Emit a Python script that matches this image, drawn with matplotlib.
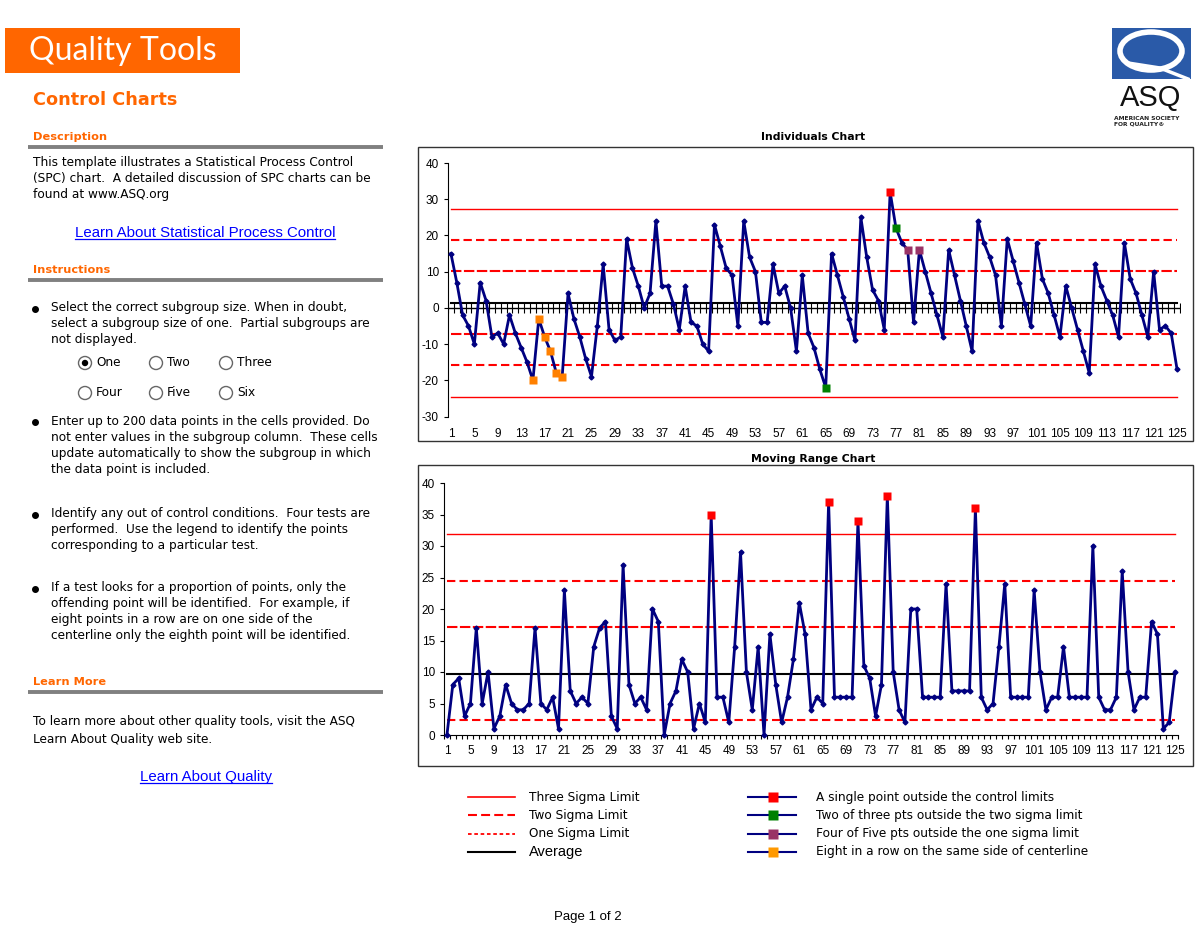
import numpy as np
import matplotlib
matplotlib.use('Agg')
import matplotlib.pyplot as plt
from matplotlib.patches import Rectangle, Circle, Ellipse

plt.rcParams['font.family'] = ['DejaVu Sans']
plt.rcParams['axes.unicode_minus'] = False
ARIAL = 'Liberation Sans'

# 单值数据
points = list(range(1, 126))
values = [15, 7, -2, -5, -10, 7, 2, -8, -7, -10,
          -2, -7, -11, -15, -20, -3, -8, -12, -18, -19,
          4, -3, -8, -14, -19, -5, 12, -6, -9, -8,
          19, 11, 6, 0, 4, 24, 6, 6, 1, -6,
          6, -4, -5, -10, -12, 23, 17, 11, 9, -5,
          24, 14, 10, -4, -4, 12, 4, 6, 0, -12,
          9, -7, -11, -17, -22, 15, 9, 3, -3, -9,
          25, 14, 5, 2, -6, 32, 22, 18, 16, -4,
          16, 10, 4, -2, -8, 16, 9, 2, -5, -12,
          24, 18, 14, 9, -5, 19, 13, 7, 1, -5,
          18, 8, 4, -2, -8, 6, 0, -6, -12, -18,
          12, 6, 2, -2, -8, 18, 8, 4, -2, -8,
          10, -6, -5, -7, -17]

# 移动极差
moving_range = [0, 8, 9, 3, 5, 17, 5, 10, 1, 3,
                8, 5, 4, 4, 5, 17, 5, 4, 6, 1,
                23, 7, 5, 6, 5, 14, 17, 18, 3, 1,
                27, 8, 5, 6, 4, 20, 18, 0, 5, 7,
                12, 10, 1, 5, 2, 35, 6, 6, 2, 14,
                29, 10, 4, 14, 0, 16, 8, 2, 6, 12,
                21, 16, 4, 6, 5, 37, 6, 6, 6, 6,
                34, 11, 9, 3, 8, 38, 10, 4, 2, 20,
                20, 6, 6, 6, 6, 24, 7, 7, 7, 7,
                36, 6, 4, 5, 14, 24, 6, 6, 6, 6,
                23, 10, 4, 6, 6, 14, 6, 6, 6, 6,
                30, 6, 4, 4, 6, 26, 10, 4, 6, 6,
                18, 16, 1, 2, 10]

# 判异点
test1_ind = [76]
test2_ind = [65, 77]
test3_ind = [79, 81]
test4_ind = [15, 16, 17, 18, 19, 20]
test1_mr = [46, 66, 71, 76, 91]

x_labels = list(range(1, 126, 4))

# 控制限
center = np.mean(values)
mr_bar = np.mean(moving_range[1:])
sigma = mr_bar / 1.128
sigma_mr = 0.853 * sigma

W, H = 1200, 927
ORANGE = '#FF6600'
RED = '#FF0000'
NAVY = '#000080'
GREEN = '#008000'
PURPLE = '#993366'
ORANGE2 = '#FF8000'
BODY = 8.7

fig = plt.figure(figsize=(12, 9.27), dpi=100)
bg = fig.add_axes([0, 0, 1, 1])
bg.set_xlim(0, W)
bg.set_ylim(H, 0)
bg.axis('off')


def px_axes(x0, y0, x1, y1):
    return fig.add_axes([x0 / W, 1 - y1 / H, (x1 - x0) / W, (y1 - y0) / H])


def txt(x, y, s, **kw):
    kw.setdefault('fontsize', BODY)
    kw.setdefault('va', 'center')
    return bg.text(x, y, s, **kw)


def link(x, y, s):
    t = txt(x, y, s, ha='center', fontsize=10.8, family=ARIAL, color='#0000FF')
    r = fig.canvas.get_renderer()
    bb = t.get_window_extent(renderer=r).transformed(bg.transData.inverted())
    bg.plot([bb.x0, bb.x1], [bb.y0 - 1, bb.y0 - 1], color='#0000FF', lw=0.9)


# 左侧文字
bg.add_patch(Rectangle((5, 28), 235, 45, color=ORANGE, lw=0))
txt(29, 51, 'Quality Tools', fontsize=23, color='white', family='Lato')
txt(33, 100, 'Control Charts', fontsize=12.7, weight='bold', color=ORANGE)

txt(33, 137, 'Description', fontsize=8.2, weight='bold', color=ORANGE)
bg.plot([28, 383], [147, 147], color='#808080', lw=2.8, solid_capstyle='butt')
desc = ['This template illustrates a Statistical Process Control',
        '(SPC) chart.  A detailed discussion of SPC charts can be',
        'found at www.ASQ.org']
for i, s in enumerate(desc):
    txt(33, 162 + 16 * i, s)
link(205, 233, 'Learn About Statistical Process Control')

txt(33, 270, 'Instructions', fontsize=8.2, weight='bold', color=ORANGE)
bg.plot([28, 383], [280, 280], color='#808080', lw=2.8, solid_capstyle='butt')

bullets = [(308, ['Select the correct subgroup size. When in doubt,',
                  'select a subgroup size of one.  Partial subgroups are',
                  'not displayed.']),
           (421, ['Enter up to 200 data points in the cells provided. Do',
                  'not enter values in the subgroup column.  These cells',
                  'update automatically to show the subgroup in which',
                  'the data point is included.']),
           (514, ['Identify any out of control conditions.  Four tests are',
                  'performed.  Use the legend to identify the points',
                  'corresponding to a particular test.']),
           (588, ['If a test looks for a proportion of points, only the',
                  'offending point will be identified.  For example, if',
                  'eight points in a row are on one side of the',
                  'centerline only the eighth point will be identified.'])]
for y0, lines in bullets:
    bg.plot([35], [y0 + 1], 'o', color='black', ms=4)
    for i, s in enumerate(lines):
        txt(51, y0 + 16 * i, s)

radios = [('One', 85, 363), ('Two', 156, 363), ('Three', 226, 363),
          ('Four', 85, 393), ('Five', 156, 393), ('Six', 226, 393)]
for i, (lab, rx, ry) in enumerate(radios):
    bg.add_patch(Circle((rx, ry), 6.5, fc='white', ec='#666666', lw=1))
    if i == 0:
        bg.add_patch(Circle((rx, ry), 3.2, fc='black', ec='none'))
    txt(rx + 11, ry, lab)

txt(33, 682, 'Learn More', fontsize=8.2, weight='bold', color=ORANGE)
bg.plot([28, 383], [692, 692], color='#808080', lw=2.8, solid_capstyle='butt')
txt(33, 722, 'To learn more about other quality tools, visit the ASQ')
txt(33, 739, 'Learn About Quality web site.')
link(206, 777, 'Learn About Quality')

# ASQ 标志
bg.add_patch(Rectangle((1112, 28), 79, 51, color='#2A5AA8', lw=0))
bg.add_patch(Ellipse((1151, 51), 62, 38, fc='none', ec='white', lw=4))
bg.plot([1128, 1160, 1188], [63, 68, 79], color='white', lw=2.5)
txt(1151, 98, 'ASQ', fontsize=21, family=ARIAL, ha='center', color='#111111')
txt(1114, 118, 'AMERICAN SOCIETY', fontsize=4.3, weight='bold', color='#222222')
txt(1114, 124, 'FOR QUALITY\u00ae', fontsize=4.3, weight='bold', color='#222222')

# 图框
bg.add_patch(Rectangle((418, 147), 775, 294, fc='none', ec='#333333', lw=1))
bg.add_patch(Rectangle((418, 465), 775, 301, fc='none', ec='#333333', lw=1))
txt(813, 137, 'Individuals Chart', fontsize=7.8, weight='bold', ha='center')
txt(813, 459, 'Moving Range Chart', fontsize=7.8, weight='bold', ha='center')

n = len(points)
d1 = (0, (5, 1.2))
d2 = (0, (4, 2))

# 单值图
ax1 = px_axes(448, 163, 1180, 416.5)
ax1.set_facecolor('none')
ax1.set_xlim(0.5, 125.5)
ax1.set_ylim(-30, 40)
for k in ['top', 'right', 'bottom']:
    ax1.spines[k].set_visible(False)
ax1.set_yticks(range(-30, 41, 10))
ax1.set_xticks(x_labels)
ax1.tick_params(axis='x', length=0, pad=8)
ax1.tick_params(axis='y', length=3, pad=3.5)
for lab in ax1.get_xticklabels() + ax1.get_yticklabels():
    lab.set_family(ARIAL)
    lab.set_fontsize(8.5)

ax1.plot(points, [center + 3 * sigma] * n, color=RED, lw=1)
ax1.plot(points, [center - 3 * sigma] * n, color=RED, lw=1)
ax1.plot(points, [center + 2 * sigma] * n, color=RED, lw=1.5, ls=d2)
ax1.plot(points, [center - 2 * sigma] * n, color=RED, lw=1.5, ls=d2)
ax1.plot(points, [center + sigma] * n, color=RED, lw=1.5, ls=d1)
ax1.plot(points, [center - sigma] * n, color=RED, lw=1.5, ls=d1)
ax1.axhline(0, color='black', lw=1)
ax1.plot(np.arange(0.5, 126, 1), np.zeros(n + 1), ls='none', marker='|',
         ms=7, mew=0.8, color='black')
ax1.plot(points, [center] * n, color='black', lw=1.5)
ax1.plot(points, values, color=NAVY, lw=2, marker='D', ms=2.5, zorder=4)
for idx, col in [(test4_ind, ORANGE2), (test3_ind, PURPLE),
                 (test2_ind, GREEN), (test1_ind, RED)]:
    ax1.plot(idx, [values[i - 1] for i in idx], 's', color=col, ms=6,
             mec='none', zorder=5)

# 移动极差图
ax2 = px_axes(444, 483, 1178, 735)
ax2.set_facecolor('none')
ax2.set_xlim(0.5, 125.5)
ax2.set_ylim(0, 40)
for k in ['top', 'right']:
    ax2.spines[k].set_visible(False)
ax2.set_yticks(range(0, 41, 5))
ax2.set_xticks(x_labels)
ax2.set_xticks(np.arange(0.5, 126, 1), minor=True)
ax2.tick_params(axis='x', which='major', length=0, pad=7.5)
ax2.tick_params(axis='x', which='minor', length=3, width=0.8)
ax2.tick_params(axis='y', length=3, pad=3.5)
for lab in ax2.get_xticklabels() + ax2.get_yticklabels():
    lab.set_family(ARIAL)
    lab.set_fontsize(8.5)

ax2.plot(points, [mr_bar + 3 * sigma_mr] * n, color=RED, lw=1)
ax2.plot(points, [mr_bar + 2 * sigma_mr] * n, color=RED, lw=1.5, ls=d2)
ax2.plot(points, [mr_bar + sigma_mr] * n, color=RED, lw=1.5, ls=d1)
ax2.plot(points, [mr_bar - sigma_mr] * n, color=RED, lw=1.5, ls=d2)
ax2.plot(points, [mr_bar] * n, color='black', lw=1.5)
ax2.plot(points, moving_range, color=NAVY, lw=2, marker='D', ms=2.5,
         zorder=4, clip_on=False)
ax2.plot(test1_mr, [moving_range[i - 1] for i in test1_mr], 's', color=RED,
         ms=6, mec='none', zorder=5, clip_on=False)

# 图例
leg_y = [797, 815, 834, 852]
bg.plot([468, 515], [leg_y[0]] * 2, color=RED, lw=1.2)
bg.plot([468, 515], [leg_y[1]] * 2, color=RED, lw=1.5, ls=(0, (4.3, 2)))
bg.plot([468, 515], [leg_y[2]] * 2, color=RED, lw=1.3, ls=(0, (2, 1.5)))
bg.plot([468, 515], [leg_y[3]] * 2, color='black', lw=1.5)
for y, s in zip(leg_y[:3], ['Three Sigma Limit', 'Two Sigma Limit',
                            'One Sigma Limit']):
    txt(529, y, s)
txt(529, leg_y[3], 'Average', fontsize=10.5, family=ARIAL)

tests = [(RED, 'A single point outside the control limits'),
         (GREEN, 'Two of three pts outside the two sigma limit'),
         (PURPLE, 'Four of Five pts outside the one sigma limit'),
         ('#FF9900', 'Eight in a row on the same side of centerline')]
for y, (col, s) in zip(leg_y, tests):
    bg.plot([748, 796], [y, y], color=NAVY, lw=1.5)
    bg.plot([773], [y], 's', color=col, ms=7, mec='none')
    txt(816, y, s)

txt(588, 917, 'Page 1 of 2', fontsize=9.5, family=ARIAL, ha='center')

fig.savefig('out.png', dpi=100)
